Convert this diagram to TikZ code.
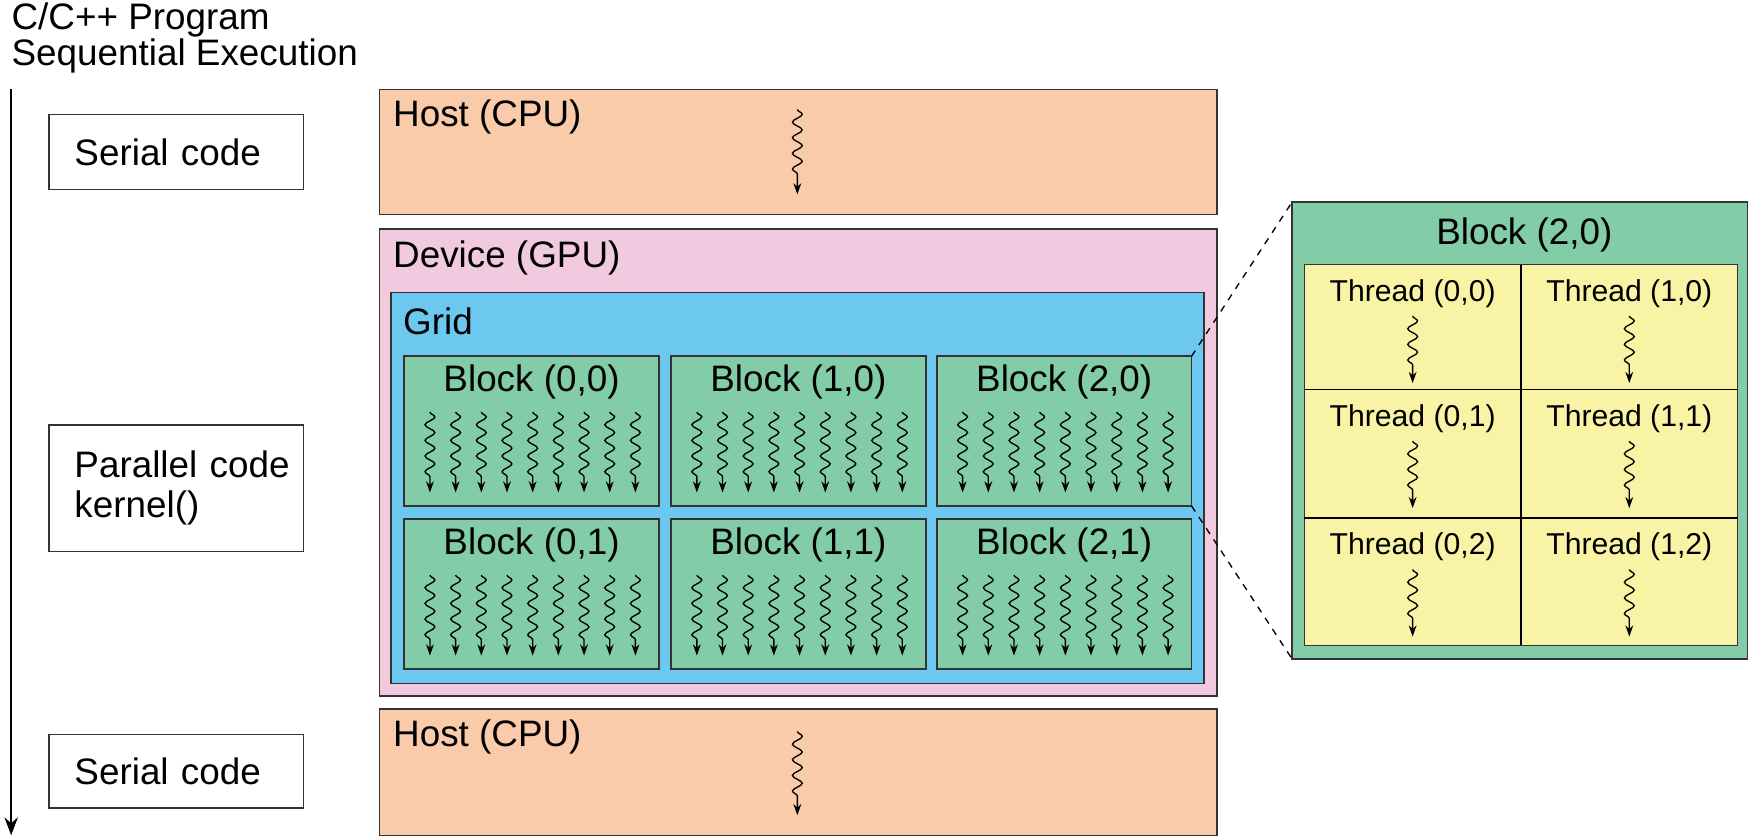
\documentclass[tikz,border=0pt]{standalone}
\usepackage{fontspec}
\setmainfont{Liberation Sans}
\usetikzlibrary{decorations.pathmorphing,arrows.meta}
\definecolor{host}{HTML}{FACBAA}
\definecolor{dev}{HTML}{F1CADF}
\definecolor{grid}{HTML}{6DC8F0}
\definecolor{blk}{HTML}{82CCA8}
\definecolor{thr}{HTML}{F8F3A5}
\begin{document}
\begin{tikzpicture}[x=0.5pt,y=-0.5pt,
  box/.style={draw=black!80,line width=0.7pt},
  big/.style={font=\fontsize{16.5}{18}\selectfont},
  small/.style={font=\fontsize{13.5}{15}\selectfont},
  sq/.style={decorate,decoration={snake,amplitude=2.2,segment length=7,post length=7pt},-{Stealth[length=5pt,width=3.5pt]},line width=0.6pt}]
\useasboundingbox (0,0) rectangle (1568,750);
\node[big,anchor=north west,align=left,inner sep=0] (title) at (10,2) {C/C++ Program\\[-2pt]Sequential Execution};
\coordinate (at) at (10,80); \coordinate (ab) at (10,748);
\draw[line width=0.8pt,-{Stealth[length=8pt,width=6pt]}] (at) -- (ab);
\node[box,big,minimum width=114,minimum height=33.5,anchor=north west,align=left,text width=105,inner sep=0pt] (s1) at (43,102) {\hspace*{7pt}Serial code};
\node[box,big,minimum width=114,minimum height=56.5,anchor=north west,align=left,text width=105,inner sep=0pt] (p) at (43,380) {\hspace*{7pt}Parallel code\\\hspace*{7pt}kernel()};
\node[box,big,minimum width=114,minimum height=33,anchor=north west,align=left,text width=105,inner sep=0pt] (s2) at (43,657) {\hspace*{7pt}Serial code};
% hosts
\draw[box,fill=host] (340,80) rectangle (1090,192);
\node[big,anchor=west] (h1) at (345,105) {Host (CPU)};
\coordinate (h1a) at (714,98); \coordinate (h1b) at (714,174);
\draw[sq] (h1a) -- (h1b);
\draw[box,fill=host] (340,635) rectangle (1090,748);
\node[big,anchor=west] (h2) at (345,660) {Host (CPU)};
\coordinate (h2a) at (714,655); \coordinate (h2b) at (714,730);
\draw[sq] (h2a) -- (h2b);
% device
\draw[box,fill=dev] (340,205) rectangle (1090,623);
\node[big,anchor=west] (d) at (345,231) {Device (GPU)};
\draw[box,fill=grid] (350,262) rectangle (1078,612);
\node[big,anchor=west] (g) at (354,288) {Grid};
\foreach \c/\x in {0/362,1/601,2/839}{
 \foreach \r/\y in {0/319,1/465}{
  \draw[box,fill=blk] (\x,\y) rectangle ++(228,134);
  \node[big] (b\c\r) at (\x+114,\y+23) {Block (\c,\r)};
  \foreach \i in {0,...,8}{
   \draw[sq] (\x+23+\i*23,\y+50) -- (\x+23+\i*23,\y+122);
  }
 }
}
% zoom
\draw[box,fill=blk] (1157,181) rectangle (1565,590);
\node[big] (bz) at (1365,210) {Block (2,0)};
\draw[box,fill=thr] (1168,237) rectangle (1556,578);
\draw[line width=0.6pt] (1362,237) -- (1362,578) (1168,349) -- (1556,349) (1168,464) -- (1556,464);
\foreach \c/\x in {0/1265,1/1459}{
 \foreach \r/\y in {0/237,1/349,2/464}{
  \node[small] (t\c\r) at (\x,\y+26) {Thread (\c,\r)};
  \draw[sq] (\x,\y+46) -- (\x,\y+106);
 }
}
\draw[dashed,line width=0.6pt] (1067,319) -- (1157,181) (1067,453) -- (1157,590);
\end{tikzpicture}
\end{document}
